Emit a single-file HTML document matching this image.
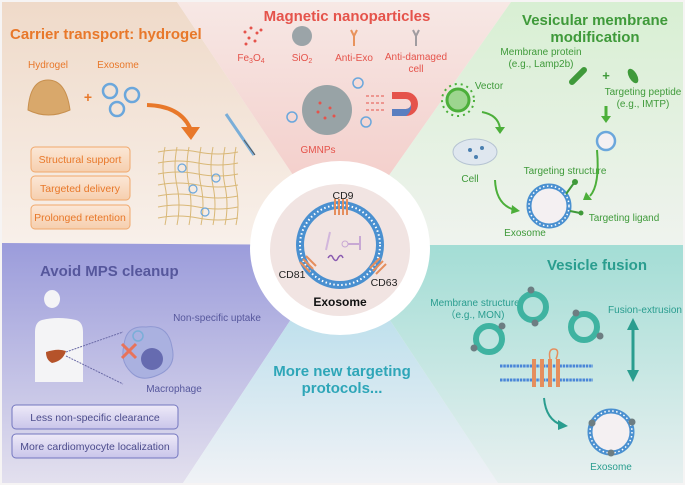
<!DOCTYPE html>
<html><head><meta charset="utf-8"><style>
html,body{margin:0;padding:0;background:#fff}
svg{display:block;font-family:"Liberation Sans",Arial,sans-serif}
</style></head><body>
<svg width="685" height="485" viewBox="0 0 685 485" xmlns="http://www.w3.org/2000/svg">
<defs>
<linearGradient id="gTL" x1="0" y1="0" x2="0" y2="1"><stop offset="0" stop-color="#efdac9"/><stop offset="1" stop-color="#f8f0ea"/></linearGradient>
<linearGradient id="gTC" x1="0" y1="0" x2="0" y2="1"><stop offset="0" stop-color="#f7e8e5"/><stop offset="1" stop-color="#f2c6c2"/></linearGradient>
<linearGradient id="gTR" x1="0" y1="0" x2="0" y2="1"><stop offset="0" stop-color="#d8efd3"/><stop offset="1" stop-color="#eff3ee"/></linearGradient>
<linearGradient id="gBL" x1="0" y1="0" x2="0" y2="1"><stop offset="0" stop-color="#9b9cdb"/><stop offset="1" stop-color="#e3e0ee"/></linearGradient>
<linearGradient id="gBC" x1="0" y1="0" x2="0" y2="1"><stop offset="0" stop-color="#a9d8e8"/><stop offset="1" stop-color="#f0f2f6"/></linearGradient>
<linearGradient id="gBR" x1="0" y1="0" x2="0" y2="1"><stop offset="0" stop-color="#a3ddd5"/><stop offset="1" stop-color="#e8f0f0"/></linearGradient>
<linearGradient id="gBox" x1="0" y1="0" x2="0" y2="1"><stop offset="0" stop-color="#fbe7d6"/><stop offset="1" stop-color="#f6cfae"/></linearGradient>
<linearGradient id="gPBox" x1="0" y1="0" x2="0" y2="1"><stop offset="0" stop-color="#eeeaf8"/><stop offset="1" stop-color="#c9c5ea"/></linearGradient>
</defs>
<rect width="685" height="485" fill="#f6f4f4"/>
<!-- regions -->
<polygon points="2,2 177,2 340,245 2,243" fill="url(#gTL)"/>
<polygon points="177,2 511,2 340,245" fill="url(#gTC)"/>
<polygon points="511,2 683,2 683,245 340,245" fill="url(#gTR)"/>
<polygon points="2,243 340,245 183,483 2,483" fill="url(#gBL)"/>
<polygon points="340,245 498,483 183,483" fill="url(#gBC)"/>
<polygon points="340,245 683,245 683,483 498,483" fill="url(#gBR)"/>
<!-- center -->
<ellipse cx="340" cy="248" rx="90" ry="87" fill="#fff"/>
<ellipse cx="340" cy="250" rx="70" ry="66" fill="#f1e4e2"/>
<circle cx="340" cy="245" r="40" fill="none" stroke="#4a90d0" stroke-width="8"/>
<circle cx="340" cy="245" r="40" fill="none" stroke="#fff" stroke-width="2" stroke-dasharray="1.5 2.5"/>
<circle cx="340" cy="245" r="33" fill="#f1e4e2"/>
<line x1="330" y1="232" x2="326" y2="250" stroke="#d2b6dc" stroke-width="2"/>
<path d="M328 258 q3 -5 5 0 q3 5 5 0 q3 -5 5 0" fill="none" stroke="#8a5bb0" stroke-width="1.5"/>
<circle cx="345" cy="244" r="3" fill="none" stroke="#c8a8d4"/><line x1="348" y1="244" x2="360" y2="244" stroke="#c8a8d4" stroke-width="2"/><line x1="360" y1="236" x2="360" y2="250" stroke="#c8a8d4" stroke-width="2"/>
<g stroke="#e58e5d" stroke-width="2"><line x1="335" y1="199" x2="335" y2="215"/><line x1="339" y1="199" x2="339" y2="215"/><line x1="343" y1="199" x2="343" y2="215"/><line x1="347" y1="199" x2="347" y2="215"/>
<line x1="300" y1="262" x2="310" y2="272"/><line x1="303" y1="259" x2="313" y2="269"/><line x1="306" y1="256" x2="316" y2="266"/>
<line x1="370" y1="268" x2="380" y2="258"/><line x1="373" y1="271" x2="383" y2="261"/><line x1="376" y1="274" x2="386" y2="264"/></g>
<text x="343" y="199" font-size="10.5" text-anchor="middle" fill="#222">CD9</text>
<text x="292" y="278" font-size="10.5" text-anchor="middle" fill="#222">CD81</text>
<text x="384" y="286" font-size="10.5" text-anchor="middle" fill="#222">CD63</text>
<text x="340" y="306" font-size="12" font-weight="bold" text-anchor="middle" fill="#111">Exosome</text>

<!-- top-left -->
<text x="10" y="39" font-size="15" font-weight="bold" fill="#e8782a">Carrier transport: hydrogel</text>
<text x="48" y="68" font-size="10" text-anchor="middle" fill="#e8782a">Hydrogel</text>
<text x="118" y="68" font-size="10" text-anchor="middle" fill="#e8782a">Exosome</text>
<path d="M28 110 Q30 80 48 80 Q66 80 70 110 Q48 120 28 110Z" fill="#d9a86b" stroke="#c8904f"/>
<text x="88" y="102" font-size="14" font-weight="bold" text-anchor="middle" fill="#e8782a">+</text>
<g fill="none" stroke="#6ba7dc" stroke-width="2.5"><circle cx="110" cy="91" r="7"/><circle cx="132" cy="95" r="7"/><circle cx="117" cy="109" r="7"/></g>
<path d="M147 105 Q180 106 190 128" fill="none" stroke="#e8782a" stroke-width="4"/>
<polygon points="181,127 200,127 191,140" fill="#e8782a"/>
<line x1="226" y1="114" x2="254" y2="155" stroke="#7aaed8" stroke-width="3"/>
<line x1="244" y1="140" x2="255" y2="155" stroke="#555" stroke-width="1"/>
<g fill="none" stroke="#d9b877" stroke-width="1">
<path d="M158 152 q20 -4 40 0 t40 0"/><path d="M158 163 q20 -4 40 0 t40 0"/><path d="M158 174 q20 -4 40 0 t40 0"/><path d="M158 185 q20 -4 40 0 t40 0"/><path d="M158 196 q20 -4 40 0 t40 0"/><path d="M158 207 q20 -4 40 0 t40 0"/><path d="M158 218 q20 -4 40 0 t40 0"/>
<path d="M165 147 q-4 20 0 39 t0 39"/><path d="M177 147 q-4 20 0 39 t0 39"/><path d="M189 147 q-4 20 0 39 t0 39"/><path d="M201 147 q-4 20 0 39 t0 39"/><path d="M213 147 q-4 20 0 39 t0 39"/><path d="M225 147 q-4 20 0 39 t0 39"/><path d="M236 147 q-4 20 0 39 t0 39"/>
</g>
<g fill="none" stroke="#6ba7dc" stroke-width="1.2"><circle cx="182" cy="168" r="4"/><circle cx="216" cy="178" r="4"/><circle cx="193" cy="189" r="4"/><circle cx="205" cy="212" r="4"/></g>
<g stroke="#f0a86c" stroke-width="1" fill="url(#gBox)">
<rect x="31" y="147" width="99" height="25" rx="4"/><rect x="31" y="176" width="99" height="24" rx="4"/><rect x="31" y="205" width="99" height="24" rx="4"/></g>
<g font-size="10.5" fill="#e8782a" text-anchor="middle"><text x="80" y="163">Structural support</text><text x="80" y="192">Targeted delivery</text><text x="80" y="221">Prolonged retention</text></g>

<!-- top-center -->
<text x="347" y="21" font-size="15" font-weight="bold" text-anchor="middle" fill="#e5534b">Magnetic nanoparticles</text>
<g fill="#e5534b"><circle cx="245" cy="32" r="1.5"/><circle cx="251" cy="28" r="1.5"/><circle cx="257" cy="33" r="1.5"/><circle cx="249" cy="38" r="1.5"/><circle cx="255" cy="41" r="1.5"/><circle cx="261" cy="30" r="1.5"/><circle cx="246" cy="44" r="1.5"/></g>
<circle cx="302" cy="36" r="10" fill="#9ba4a8"/>
<path d="M351 30 l3 6 l3 -6 M354 36 v10" stroke="#e8935d" stroke-width="2" fill="none"/>
<path d="M413 30 l3 6 l3 -6 M416 36 v10" stroke="#a09ca0" stroke-width="2" fill="none"/>
<g font-size="10" fill="#e5534b" text-anchor="middle"><text x="251" y="61">Fe<tspan font-size="7" dy="2">3</tspan><tspan dy="-2">O</tspan><tspan font-size="7" dy="2">4</tspan></text><text x="302" y="61">SiO<tspan font-size="7" dy="2">2</tspan></text><text x="354" y="61">Anti-Exo</text><text x="416" y="60">Anti-damaged</text><text x="416" y="72">cell</text><text x="318" y="153">GMNPs</text></g>
<circle cx="327" cy="110" r="25" fill="#98a3a6"/>
<g fill="#e5534b"><circle cx="320" cy="103" r="1.5"/><circle cx="330" cy="108" r="1.5"/><circle cx="325" cy="118" r="1.5"/><circle cx="334" cy="116" r="1.5"/><circle cx="318" cy="112" r="1.5"/></g>
<g fill="none" stroke="#6ba7dc" stroke-width="1.5"><circle cx="292" cy="117" r="5"/><circle cx="358" cy="83" r="5"/><circle cx="366" cy="122" r="5"/></g>
<g stroke="#e5534b" stroke-dasharray="3 2"><line x1="366" y1="96" x2="384" y2="96"/><line x1="366" y1="103" x2="384" y2="103"/><line x1="366" y1="110" x2="384" y2="110"/></g>
<path d="M392 92 h14 a12 12 0 0 1 0 24 h-14 v-7 h14 a5 5 0 0 0 0 -10 h-14z" fill="#e5534b"/>
<path d="M392 104 h19 a12 12 0 0 1 -5 12 h-14 v-7 h14 a5 5 0 0 0 5 -5z" fill="#5a7fc0"/>

<!-- top-right -->
<g font-size="15" font-weight="bold" text-anchor="middle" fill="#3f9a3a"><text x="595" y="25">Vesicular membrane</text><text x="595" y="42">modification</text></g>
<g font-size="10" fill="#3f9a3a" text-anchor="middle"><text x="541" y="55">Membrane protein</text><text x="541" y="67">(e.g., Lamp2b)</text><text x="643" y="95">Targeting peptide</text><text x="643" y="107">(e.g., IMTP)</text><text x="489" y="89">Vector</text><text x="470" y="182">Cell</text><text x="565" y="174">Targeting structure</text><text x="624" y="221">Targeting ligand</text><text x="525" y="236">Exosome</text></g>
<line x1="572" y1="82" x2="584" y2="70" stroke="#3f9a3a" stroke-width="6" stroke-linecap="round"/>
<text x="606" y="80" font-size="13" font-weight="bold" text-anchor="middle" fill="#3f9a3a">+</text>
<ellipse cx="633" cy="76" rx="4" ry="8" transform="rotate(-30 633 76)" fill="#3f9a3a"/>
<circle cx="458" cy="100" r="11" fill="#9dd58f" stroke="#4caf3a" stroke-width="3"/>
<circle cx="458" cy="100" r="16" fill="none" stroke="#4caf3a" stroke-width="2" stroke-dasharray="2 4"/>
<path d="M482 112 Q498 115 500 128" fill="none" stroke="#4caf3a" stroke-width="2"/><polygon points="495,127 505,127 500,134" fill="#4caf3a"/>
<line x1="606" y1="106" x2="606" y2="116" stroke="#4caf3a" stroke-width="3"/><polygon points="601,116 611,116 606,123" fill="#4caf3a"/>
<circle cx="606" cy="141" r="9" fill="#f4f0f2" stroke="#6ba7dc" stroke-width="2.5"/>
<ellipse cx="475" cy="152" rx="22" ry="13" fill="#dfe7ef" stroke="#b5c3d2"/>
<g fill="#4a7fb0"><circle cx="470" cy="150" r="2"/><circle cx="482" cy="148" r="2"/><circle cx="476" cy="157" r="2"/></g>
<path d="M495 180 Q496 205 515 210" fill="none" stroke="#4caf3a" stroke-width="2"/><polygon points="512,205 520,211 511,214" fill="#4caf3a"/>
<path d="M597 150 Q600 185 590 196" fill="none" stroke="#4caf3a" stroke-width="2"/><polygon points="586,192 592,200 583,200" fill="#4caf3a"/>
<circle cx="549" cy="206" r="20" fill="#f4f0f2" stroke="#4a90d0" stroke-width="5"/>
<circle cx="549" cy="206" r="20" fill="none" stroke="#fff" stroke-width="1.5" stroke-dasharray="1.5 2.5"/>
<line x1="566" y1="194" x2="574" y2="183" stroke="#3f9a3a" stroke-width="2"/><circle cx="575" cy="182" r="3" fill="#3f9a3a"/>
<line x1="570" y1="211" x2="580" y2="213" stroke="#3f9a3a" stroke-width="2"/><circle cx="581" cy="213" r="2.5" fill="#3f9a3a"/>

<!-- bottom-left -->
<text x="40" y="276" font-size="15" font-weight="bold" fill="#56579c">Avoid MPS cleanup</text>
<path d="M52 308 a8 9 0 1 1 0.1 0 M42 320 q16 -4 34 0 q7 2 7 12 v50 h-48 v-50 q0 -10 7 -12z" fill="#f4f4f6"/>
<path d="M46 352 q12 -4 20 -1 q-3 10 -14 12 q-6 -3 -6 -11z" fill="#b5532a"/>
<line x1="66" y1="352" x2="123" y2="332" stroke="#6a6aa6" stroke-dasharray="2 1"/>
<line x1="66" y1="356" x2="123" y2="384" stroke="#6a6aa6" stroke-dasharray="2 1"/>
<path d="M124 345 q2 -20 22 -18 q22 -3 26 20 q5 20 -14 28 q-18 8 -28 -4 q-10 -10 -6 -26z" fill="#aab1e0" stroke="#8f98d2"/>
<circle cx="152" cy="359" r="11" fill="#666bb0"/>
<circle cx="138" cy="336" r="5" fill="none" stroke="#7aaed8" stroke-width="1.5"/>
<path d="M122 344 l14 14 M136 344 l-14 14" stroke="#e8735a" stroke-width="3"/>
<g font-size="10" fill="#56579c" text-anchor="middle"><text x="217" y="321">Non-specific uptake</text><text x="174" y="392">Macrophage</text></g>
<g stroke="#7376bf" fill="url(#gPBox)"><rect x="12" y="405" width="166" height="24" rx="4"/><rect x="12" y="434" width="166" height="24" rx="4"/></g>
<g font-size="10.5" fill="#4c4c8c" text-anchor="middle"><text x="95" y="421">Less non-specific clearance</text><text x="95" y="450">More cardiomyocyte localization</text></g>

<!-- bottom-center -->
<g font-size="15" font-weight="bold" text-anchor="middle" fill="#2ea6b8"><text x="342" y="376">More new targeting</text><text x="342" y="393">protocols...</text></g>

<!-- bottom-right -->
<text x="597" y="270" font-size="15" font-weight="bold" text-anchor="middle" fill="#2a9d8f">Vesicle fusion</text>
<g font-size="10" fill="#2a9d8f" text-anchor="middle"><text x="475" y="306">Membrane structure</text><text x="475" y="318">（e.g., MON)</text><text x="645" y="313">Fusion-extrusion</text><text x="611" y="470">Exosome</text></g>
<g fill="none" stroke="#3fb3a1" stroke-width="6"><circle cx="533" cy="307" r="13"/><circle cx="489" cy="339" r="13"/><circle cx="584" cy="327" r="13"/></g>
<g fill="#6d7d82"><circle cx="531" cy="290" r="3.5"/><circle cx="535" cy="323" r="3.5"/><circle cx="474" cy="348" r="3.5"/><circle cx="502" cy="326" r="3.5"/><circle cx="576" cy="313" r="3.5"/><circle cx="600" cy="336" r="3.5"/></g>
<line x1="633" y1="328" x2="633" y2="372" stroke="#2a9d8f" stroke-width="3"/>
<polygon points="627,330 639,330 633,318" fill="#2a9d8f"/><polygon points="627,370 639,370 633,382" fill="#2a9d8f"/>
<g stroke="#4a86d8" stroke-width="3" stroke-dasharray="2.5 0.8"><line x1="500" y1="366" x2="593" y2="366"/><line x1="500" y1="380" x2="593" y2="380"/></g>
<g fill="#e58e5d"><rect x="532" y="359" width="4" height="28"/><rect x="540" y="359" width="4" height="28"/><rect x="548" y="359" width="4" height="28"/><rect x="556" y="359" width="4" height="28"/></g>
<path d="M550 359 q-2 -10 4 -10 q6 0 2 10" fill="none" stroke="#e58e5d" stroke-width="1.5"/>
<path d="M544 398 Q546 420 562 425" fill="none" stroke="#2a9d8f" stroke-width="2"/><polygon points="558,420 568,426 558,430" fill="#2a9d8f"/>
<circle cx="611" cy="432" r="21" fill="#f4f0f2" stroke="#4a90d0" stroke-width="5"/>
<circle cx="611" cy="432" r="21" fill="none" stroke="#fff" stroke-width="1.5" stroke-dasharray="1.5 2.5"/>
<g fill="#6d7d82"><circle cx="592" cy="423" r="3.5"/><circle cx="632" cy="422" r="3.5"/><circle cx="611" cy="453" r="3.5"/></g>
</svg>
</body></html>
